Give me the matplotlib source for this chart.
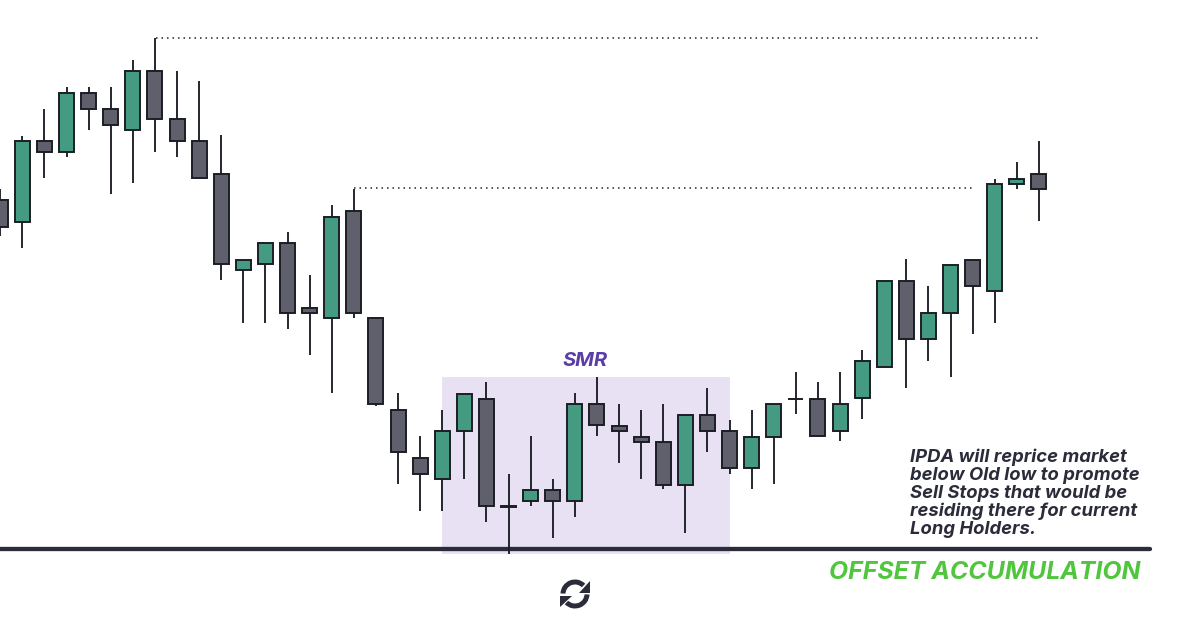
import matplotlib
matplotlib.use("Agg")
import matplotlib.pyplot as plt
from matplotlib.patches import Wedge, Polygon, Rectangle
import numpy as np

plt.rcParams['font.family'] = ['Inter', 'Liberation Sans', 'DejaVu Sans']

# candles, y runs downward like the screenshot
body_top = [200, 141, 141, 93, 93, 109, 71.3, 71.3, 119.3, 141, 173.7, 259.7, 243.3, 243.3, 307.7, 216.7,
            210.7, 318, 410, 458.3, 431.3, 393.7, 399, 506, 490, 490, 404.3, 404.3, 425.7, 436.7, 442, 415.3,
            415.3, 431.3, 437, 404.3, 398.7, 398.7, 404.3, 361.3, 281.3, 281.3, 313.3, 265, 259.7, 184, 179, 173.7]
body_bottom = [226.7, 221.7, 151.7, 151.7, 109, 124.7, 130.3, 119.3, 140.7, 178.3, 264.3, 269.7, 264.3, 312.7, 312.7, 317.7,
               312.7, 403.7, 452.3, 474.3, 479.3, 431.3, 506, 506.5, 501, 501, 501, 425.3, 431, 441.7, 484.7, 484.7,
               431, 468.3, 468.3, 437, 399.2, 436, 431, 398.3, 366.7, 339.3, 339.3, 312.7, 286, 291.3, 183.7, 189]
wick_high = [189, 135.7, 109, 87.3, 87.3, 87.3, 60, 38, 71.3, 81.3, 135.3, 259.7, 243.3, 232, 275, 205,
             189, 318, 393.3, 436.3, 409.7, 393.7, 382.3, 474, 436.3, 479.3, 393.3, 377.3, 404, 409.7, 404, 415.3,
             388.3, 420.3, 409.7, 404.3, 372.3, 382.3, 372.3, 350.3, 281.3, 259.3, 286, 265, 259.7, 178.7, 162.3, 140.7]
wick_low = [236, 248, 178, 156.7, 130, 194, 183, 151.7, 156.7, 178.3, 280.3, 323.3, 323.3, 328.7, 355.3, 393.3,
            317.7, 406, 484, 510.7, 511, 479, 522, 553.7, 505.7, 538.3, 516.7, 436.3, 462.7, 479, 489.3, 532.7,
            452.3, 473.7, 489.3, 484, 414.3, 437, 441, 419, 366.7, 387.7, 360.7, 376.7, 333.7, 323.3, 188.7, 221]
is_green = [0, 1, 0, 1, 0, 0, 1, 0, 0, 0, 0, 1, 1, 0, 0, 1,
            0, 0, 0, 0, 1, 1, 0, 0, 1, 0, 1, 0, 0, 0, 0, 1,
            0, 0, 1, 1, 0, 0, 1, 1, 1, 0, 1, 1, 0, 1, 1, 0]

old_high_level = 38
old_high_span = (7.03, 47.05)
mid_high_level = 188
mid_high_span = (16.03, 44.05)
old_low_level = 549

note_lines = ["IPDA will reprice market", "below Old low to promote", "Sell Stops that would be",
              "residing there for current", "Long Holders."]

GREEN = "#459A82"
GREY = "#5F606B"
EDGE = "#1B1E25"
DARK = "#2B2C3A"

step = 22.1
first_x = 0.2

fig = plt.figure(figsize=(12, 6.33), dpi=100)
ax = fig.add_axes([0, 0, 1, 1])
ax.set_xlim((0 - first_x) / step, (1200 - first_x) / step)
ax.set_ylim(633, 0)
ax.axis("off")

idx = np.arange(len(body_top))
top = np.array(body_top)
bottom = np.array(body_bottom)
colors = [GREEN if g else GREY for g in is_green]

# SMR box
ax.add_patch(Rectangle((19.98, 377), 13.03, 177, fc="#E7E1F3", ec="none", zorder=1))

# old low line
ax.plot([(0 - first_x) / step, (1150 - first_x) / step], [old_low_level, old_low_level],
        color=DARK, lw=3.1, solid_capstyle="round", zorder=2)

# dotted highs
for level, span in [(old_high_level, old_high_span), (mid_high_level, mid_high_span)]:
    ax.plot(span, [level, level], color="#22232B", lw=1.1, ls=(0, (1, 2.6)), zorder=2)

ax.vlines(idx, wick_high, wick_low, color=EDGE, lw=1.35, zorder=3)
ax.bar(idx, bottom - top, bottom=top, width=15 / step, color=colors, edgecolor=EDGE, linewidth=1.4, zorder=4)

ax.text(26.48, 361, "SMR", color="#5A3EA6", fontsize=14.5, fontweight="bold", fontstyle="italic",
        ha="center", va="center")

for n, line in enumerate(note_lines):
    ax.text(41.17, 457.5 + n * 18, line, color=DARK, fontsize=13.3, fontweight="bold", fontstyle="italic",
            ha="left", va="center")

ax.text(37.52, 572.5, "OFFSET ACCUMULATION", color="#4FC63C", fontsize=17.9, fontweight="bold", fontstyle="italic",
        ha="left", va="center")

# sync icon, drawn in pixels
icon = fig.add_axes([0, 0, 1, 1], zorder=5)
icon.set_xlim(0, 1200)
icon.set_ylim(0, 633)
icon.axis("off")
cx, cy = 575, 633 - 594
icon.add_patch(Wedge((cx, cy), 14.5, 45, 178, width=5, fc=DARK, ec="none"))
icon.add_patch(Wedge((cx, cy), 14.5, 225, 358, width=5, fc=DARK, ec="none"))
icon.add_patch(Polygon([(cx + 15, cy + 13), (cx + 15, cy + 1.5), (cx + 3.5, cy + 1.5)], fc=DARK, ec="none"))
icon.add_patch(Polygon([(cx - 15, cy - 13), (cx - 15, cy - 1.5), (cx - 3.5, cy - 1.5)], fc=DARK, ec="none"))

fig.savefig("out.png", dpi=100)
